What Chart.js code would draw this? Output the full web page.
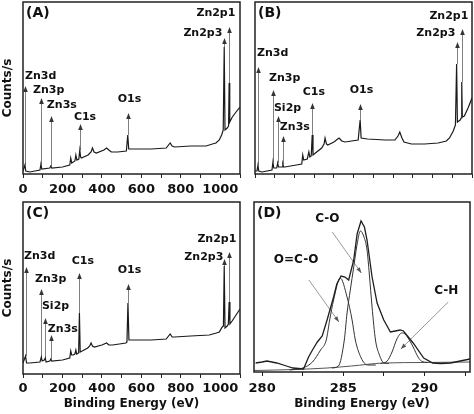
<!DOCTYPE html>
<html>
<head>
<meta charset="utf-8">
<script src="https://cdn.jsdelivr.net/npm/chart.js@4.4.0/dist/chart.umd.min.js"></script>
<style>
html, body { margin: 0; padding: 0; background: #fff; }
body { width: 474px; height: 414px; position: relative; overflow: hidden; }
canvas { position: absolute; }
</style>
</head>
<body>
<canvas id="pA" width="242" height="200" style="left:0;top:0"></canvas>
<canvas id="pB" width="232" height="200" style="left:242px;top:0"></canvas>
<canvas id="pC" width="242" height="211" style="left:0;top:200px"></canvas>
<canvas id="pD" width="232" height="211" style="left:242px;top:200px"></canvas>
<script>
// survey spectra, binding energy (eV) vs relative counts
var aEnergy = [0,5,10,14,35,60,86,91,95,136,141,146,200,237,242,247,263,268,273,283,288,292,296,330,345,352,360,372,410,424,435,448,480,524,531,536,560,650,726,746,756,768,850,928,960,978,995,1007,1015,1020,1024,1035,1042,1045,1048,1061,1080,1100];
var aCounts = [3,3,9,3,2,3,4,10,5,6,8,6,7,9,16,11,13,19,14,15,24,17,16,19,22,26,22,21,24,26,24,22,22,23,39,25,25,25,26,31,28,27,28,28,30,31,34,39,44,127,44,46,48,91,52,57,62,67];

var bEnergy = [-10,0,5,9,25,76,81,85,100,105,109,127,131,135,141,200,227,232,237,255,263,268,275,280,284,290,328,340,345,352,359,390,416,430,446,513,523,528,560,650,699,715,724,735,745,783,850,918,960,976,995,1006,1012,1016,1030,1035,1038,1041,1051,1070,1090];
var bCounts = [3,3,9,3,2,4,12,6,6,11,7,7,10,7,7,9,10,19,14,15,22,17,18,39,19,20,26,30,36,30,29,32,36,33,32,34,54,36,35,34,34,38,42,36,32,30,30,31,33,36,43,49,110,52,54,56,92,57,58,66,76];

var cEnergy = [0,5,13,18,35,86,93,97,108,113,117,136,141,146,200,237,242,247,255,263,268,272,282,286,290,300,328,338,345,352,362,400,424,435,454,522,527,532,537,560,650,726,746,756,768,850,944,980,995,1010,1016,1020,1024,1035,1041,1045,1049,1060,1070,1100];
var cCounts = [11,11,18,11,11,12,17,13,14,16,12,13,15,13,14,16,23,19,19,20,24,20,21,61,22,23,26,28,31,28,27,29,31,29,29,31,32,71,34,34,34,35,40,37,37,38,39,41,42,47,48,108,46,48,50,72,50,53,56,65];

// peak markers for the surveys
var aPeaks = ['Zn3d','Zn3p','Zn3s','C1s','O1s','Zn2p3','Zn2p1'];
var aArrowAt = [10,91,141,288,531,1020,1045];
var aArrowFrom = [9,10,8,24,39,127,91];
var aArrowTo = [88,76,58,50,61,136,147];
var aLabelAt = [10,51,121,258,480,813,879];
var aLabelLevel = [98,84,69,57,75,141,161];

var bPeaks = ['Zn3d','Zn3p','Si2p','Zn3s','C1s','O1s','Zn2p3','Zn2p1'];
var bArrowAt = [5,81,105,131,280,523,1012,1038];
var bArrowFrom = [9,12,11,10,39,54,110,92];
var bArrowTo = [107,84,58,38,71,70,132,145];
var bLabelAt = [0,61,86,116,232,470,808,874];
var bLabelLevel = [121,96,66,47,82,84,141,158];

var cPeaks = ['Zn3d','Zn3p','Si2p','Zn3s','C1s','O1s','Zn2p3','Zn2p1'];
var cArrowAt = [13,93,113,141,286,532,1020,1045];
var cArrowFrom = [18,17,16,15,61,71,108,72];
var cArrowTo = [107,85,56,39,101,90,115,122];
var cLabelAt = [5,61,96,126,247,480,818,884];
var cLabelLevel = [118,95,68,45,113,104,117,135];

// C1s high resolution: raw envelope, fitted components and background
var dEnergy = [279.6,280.0,280.3,280.9,281.5,281.9,282.55,282.86,283.1,283.4,283.7,284.0,284.4,284.6,284.86,285.1,285.33,285.64,285.85,286.09,286.3,286.46,286.77,287.08,287.49,287.9,288.2,288.5,288.7,289.0,289.3,289.95,290.5,291.0,291.6,292.2,292.8];
var dCounts = [9,10,11,9,6,4,3,15,22,30,36,52,75,88,96,95,92,112,138,151,145,132,95,69,52,40,41,42,41,35,29,14,9,8.5,9,11,13];
var ocoEnergy = [281.7,282.5,283.1,283.6,283.95,284.16,284.4,284.81,285.23,285.54,285.74,286.1,286.5,287.0];
var ocoCounts = [2,4,10,22,32,52,72,94,75,52,32,14,7,7];
var coEnergy = [284.3,284.7,285.06,285.23,285.43,285.64,285.85,286.05,286.25,286.46,286.6,286.77,286.98,287.2,287.5,287.8];
var coCounts = [4,6,32,59,82,105,128,141,136,122,98,65,32,18,9,8.5];
var chEnergy = [287.3,287.7,288.0,288.3,288.6,288.8,289.1,289.3,289.6,289.8,290.2];
var chCounts = [8.5,11,20,33,39,38,31,25,15,11,9.5];
var baseEnergy = [279.5,282,284,285.5,287.5,290,292.8];
var baseCounts = [1.5,2.5,4,6,9,9.5,10];

var dNames = ['O=C-O','C-O','C-H'];
var dLabelAt = [280.72,283.27,290.6];
var dLabelLevel = [112,153,81];
var dLineFromAt = [282.88,284.32,291.46];
var dLineFromLevel = [92,140,70];
var dLineToAt = [284.73,286.11,288.54];
var dLineToLevel = [50,99,23];

Chart.defaults.font.family = 'DejaVu Sans';
Chart.defaults.font.weight = 'bold';
Chart.defaults.color = '#111';

function pts(xs, ys) {
  return xs.map(function (x, i) { return { x: x, y: ys[i] }; });
}

var annot = {
  id: 'annot',
  beforeDatasetsDraw: function (chart, args, o) {
    var ctx = chart.ctx, xs = chart.scales.x, ys = chart.scales.y;
    ctx.save();
    if (o.arrowAt) {
      o.arrowAt.forEach(function (e, i) {
        var px = Math.round(xs.getPixelForValue(e)) + 0.5;
        var y1 = ys.getPixelForValue(o.from[i]);
        var y2 = ys.getPixelForValue(o.to[i]);
        ctx.strokeStyle = '#808080';
        ctx.lineWidth = 1;
        ctx.beginPath();
        ctx.moveTo(px, y1);
        ctx.lineTo(px, y2 + 4);
        ctx.stroke();
        ctx.fillStyle = '#333';
        ctx.beginPath();
        ctx.moveTo(px, y2);
        ctx.lineTo(px - 2.3, y2 + 6);
        ctx.lineTo(px + 2.3, y2 + 6);
        ctx.closePath();
        ctx.fill();
      });
    }
    if (o.lineFromAt) {
      o.lineFromAt.forEach(function (e, i) {
        var x1 = xs.getPixelForValue(e), y1 = ys.getPixelForValue(o.lineFromLevel[i]);
        var x2 = xs.getPixelForValue(o.lineToAt[i]), y2 = ys.getPixelForValue(o.lineToLevel[i]);
        var ang = Math.atan2(y2 - y1, x2 - x1);
        ctx.strokeStyle = '#999';
        ctx.lineWidth = 1;
        ctx.beginPath();
        ctx.moveTo(x1, y1);
        ctx.lineTo(x2, y2);
        ctx.stroke();
        ctx.fillStyle = '#555';
        ctx.beginPath();
        ctx.moveTo(x2, y2);
        ctx.lineTo(x2 - 6 * Math.cos(ang - 0.35), y2 - 6 * Math.sin(ang - 0.35));
        ctx.lineTo(x2 - 6 * Math.cos(ang + 0.35), y2 - 6 * Math.sin(ang + 0.35));
        ctx.closePath();
        ctx.fill();
      });
    }
    ctx.restore();
  },
  afterDraw: function (chart, args, o) {
    var ctx = chart.ctx, a = chart.chartArea, xs = chart.scales.x, ys = chart.scales.y;
    ctx.save();
    ctx.fillStyle = '#111';
    ctx.textBaseline = 'middle';
    ctx.textAlign = 'left';
    ctx.font = 'bold ' + o.labelSize + 'px "DejaVu Sans"';
    o.names.forEach(function (n, i) {
      ctx.fillText(n, xs.getPixelForValue(o.labelAt[i]), ys.getPixelForValue(o.labelLevel[i]));
    });
    ctx.font = 'bold 14px "DejaVu Sans"';
    ctx.fillText(o.letter, a.left + 3, a.top + 11);
    ctx.strokeStyle = '#222';
    ctx.lineWidth = 1.5;
    ctx.strokeRect(a.left, a.top, a.right - a.left, a.bottom - a.top);
    ctx.restore();
  }
};

// labelDrop: distance in px from the axis line down to the middle of the tick labels
function xAxis(min, max, step, every, labelDrop, height, title) {
  return {
    type: 'linear', min: min, max: max,
    ticks: {
      stepSize: step, autoSkip: false, maxRotation: 0, padding: 2, includeBounds: false,
      color: '#111', font: { size: 13, weight: 'bold', lineHeight: (labelDrop - 6) * 2 / 13 },
      callback: function (v) {
        var r = Math.round(v * 100) / 100;
        return Math.abs(r % every) < 1e-6 ? String(r) : '';
      }
    },
    grid: { display: true, drawOnChartArea: false, drawTicks: true, tickLength: 4, color: '#222', lineWidth: 1 },
    border: { display: false },
    title: { display: !!title, text: title || '', color: '#111', font: { size: 12, weight: 'bold' }, padding: { top: 0, bottom: 0 } },
    afterFit: function (s) { s.height = height; }
  };
}

function yAxis(max, width, title) {
  return {
    type: 'linear', min: 0, max: max,
    ticks: { display: false },
    grid: { display: false },
    border: { display: false },
    title: { display: !!title, text: title || '', color: '#111', font: { size: 12, weight: 'bold' }, padding: { top: 1, bottom: 0 } },
    afterFit: function (s) { s.width = width; }
  };
}

function line(data, color, width, smooth) {
  return {
    data: data, borderColor: color, borderWidth: width, pointRadius: 0, fill: false,
    tension: smooth ? 0.4 : 0, cubicInterpolationMode: smooth ? 'monotone' : 'default'
  };
}

function panel(id, datasets, x, y, pad, ann) {
  return new Chart(document.getElementById(id), {
    type: 'line',
    data: { datasets: datasets },
    options: {
      responsive: false, animation: false,
      layout: { padding: pad },
      scales: { x: x, y: y },
      plugins: { legend: { display: false }, tooltip: { enabled: false }, annot: ann }
    },
    plugins: [annot]
  });
}

panel('pA', [line(pts(aEnergy, aCounts), '#1a1a1a', 1.2)],
  xAxis(0, 1100, 100, 200, 16, 26), yAxis(172, 23, 'Counts/s'),
  { top: 2, right: 2, left: 0, bottom: 0 },
  { letter: '(A)', labelSize: 11, names: aPeaks, labelAt: aLabelAt, labelLevel: aLabelLevel,
    arrowAt: aArrowAt, from: aArrowFrom, to: aArrowTo });

panel('pB', [line(pts(bEnergy, bCounts), '#1a1a1a', 1.2)],
  xAxis(-10, 1090, 100, 200, 16, 26), yAxis(172, 13),
  { top: 2, right: 2, left: 0, bottom: 0 },
  { letter: '(B)', labelSize: 11, names: bPeaks, labelAt: bLabelAt, labelLevel: bLabelLevel,
    arrowAt: bArrowAt, from: bArrowFrom, to: bArrowTo });

panel('pC', [line(pts(cEnergy, cCounts), '#1a1a1a', 1.2)],
  xAxis(0, 1100, 100, 200, 14.7, 37, 'Binding Energy (eV)'), yAxis(172, 23, 'Counts/s'),
  { top: 2, right: 2, left: 0, bottom: 0 },
  { letter: '(C)', labelSize: 11, names: cPeaks, labelAt: cLabelAt, labelLevel: cLabelLevel,
    arrowAt: cArrowAt, from: cArrowFrom, to: cArrowTo });

panel('pD', [
    line(pts(dEnergy, dCounts), '#1e1e1e', 1.3),
    line(pts(ocoEnergy, ocoCounts), '#333', 1, true),
    line(pts(coEnergy, coCounts), '#333', 1, true),
    line(pts(chEnergy, chCounts), '#333', 1, true),
    line(pts(baseEnergy, baseCounts), '#555', 1, true)
  ],
  xAxis(279.5, 292.8, 2.5, 5, 16.7, 39, 'Binding Energy (eV)'), yAxis(170, 12),
  { top: 2, right: 4, left: 0, bottom: 0 },
  { letter: '(D)', labelSize: 12, names: dNames, labelAt: dLabelAt, labelLevel: dLabelLevel,
    lineFromAt: dLineFromAt, lineFromLevel: dLineFromLevel, lineToAt: dLineToAt, lineToLevel: dLineToLevel });
</script>
</body>
</html>
